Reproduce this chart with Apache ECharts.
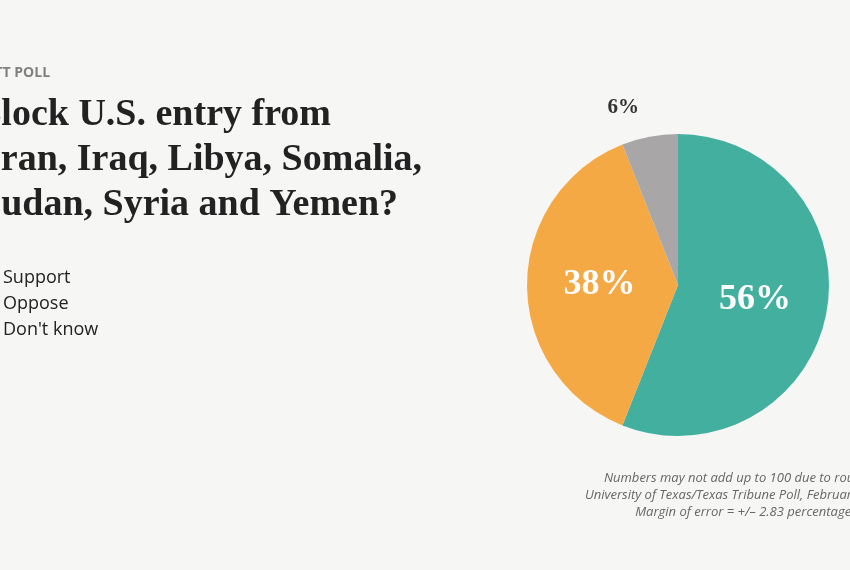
<!DOCTYPE html><html><head><meta charset="utf-8"><script src="https://cdn.jsdelivr.net/npm/echarts@6/dist/echarts.min.js"></script>
<style>html,body{margin:0;background:#f6f6f5}#c{width:850px;height:570px}</style></head><body><div id="c"></div><script>
const categories=["Support","Oppose","Don't know"];
const values=[56,38,6];
const colors=['#43b09f','#f5a945','#a8a6a6'];
const titleLines=["Block U.S. entry from","Iran, Iraq, Libya, Somalia,","Sudan, Syria and Yemen?"];
const notes=["Numbers may not add up to 100 due to rounding.","University of Texas/Texas Tribune Poll, February 2017","Margin of error = +/\u2013 2.83 percentage points"];
const ch=echarts.init(document.getElementById('c'));
const g=[{type:'text',left:-30,top:66,style:{text:'UT/TT POLL',font:'bold 14px "Open Sans"',fill:'#808080'}}];
titleLines.forEach((t,i)=>g.push({type:'text',left:[-24,-14,-20][i],top:96+i*45,style:{text:t,font:'bold 38px "Liberation Serif"',fill:'#222'}}));
notes.forEach((t,i)=>g.push({type:'text',right:-40,top:472+i*17,style:{text:t,font:'italic 13px "Open Sans"',fill:'#666',align:'right'}}));
ch.setOption({backgroundColor:'#f6f6f5',color:colors,graphic:g,
legend:{orient:'vertical',left:-21,top:264,itemGap:8,itemWidth:14,itemHeight:18,icon:'rect',textStyle:{fontFamily:'Open Sans',fontSize:18,color:'#222'},data:categories,selectedMode:false},
series:[{type:'pie',center:[678,285],radius:151,startAngle:90,clockwise:true,silent:true,
data:categories.map((c,i)=>({name:c,value:values[i],
label:i<2?{position:'inside',fontSize:36,fontWeight:'bold',fontFamily:'Liberation Serif',color:'#fff'}:{position:'outside',fontSize:21,fontWeight:'bold',fontFamily:'Liberation Serif',color:'#333'},
labelLine:{show:false}})),
label:{formatter:'{c}%'},labelLine:{show:false,length:30,length2:0}}]});
</script></body></html>
